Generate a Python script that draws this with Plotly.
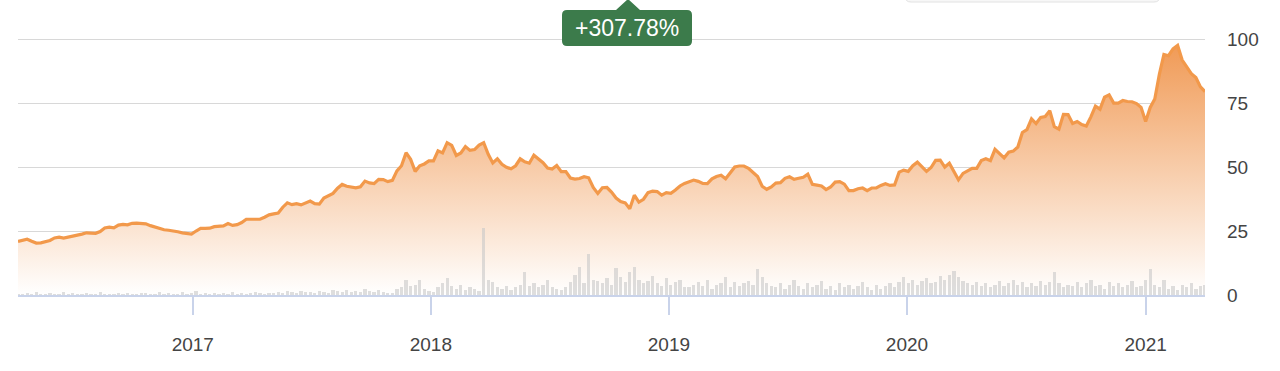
import plotly.graph_objects as go
import pandas as pd

# ---------------- data ----------------
start_date = "2016-04-08"
n_weeks = 261

price = [
    20.9, 21.4, 21.8, 21.0, 20.3, 20.4, 20.7, 21.3, 22.3, 22.6,
    22.2, 22.5, 22.9, 23.4, 23.8, 24.3, 24.2, 24.1, 24.8, 26.2,
    26.5, 26.2, 27.3, 27.6, 27.4, 28.0, 28.1, 28.0, 27.8, 27.1,
    26.5, 25.8, 25.5, 25.3, 25.1, 24.7, 24.3, 23.9, 23.8, 25.0,
    26.0, 26.0, 26.1, 26.7, 27.0, 27.0, 27.9, 27.2, 27.5, 28.3,
    29.6, 29.7, 29.6, 29.6, 30.4, 31.3, 31.7, 32.0, 34.3, 36.0,
    35.3, 35.7, 35.2, 35.8, 36.7, 35.7, 35.5, 37.9, 38.7, 39.7,
    41.7, 43.2, 42.5, 42.3, 41.9, 42.3, 44.5, 43.8, 43.5, 45.2,
    45.1, 44.3, 44.8, 48.5, 50.5, 55.6, 53.0, 48.3, 50.5, 51.2,
    52.4, 52.4, 56.3, 55.5, 59.5, 58.5, 54.5, 55.5, 58.0, 56.5,
    56.8, 58.6, 59.5, 55.0, 51.6, 53.2, 51.1, 49.9, 49.3, 50.5,
    53.2, 52.0, 51.5, 54.6, 53.3, 51.7, 49.6, 49.2, 50.6, 48.2,
    48.2, 45.7, 45.3, 45.5, 46.2, 45.8, 42.0, 39.7, 41.9, 42.0,
    40.2, 37.9, 36.5, 36.0, 33.7, 39.0, 36.3, 37.4, 40.0, 40.6,
    40.4, 39.0, 40.0, 39.7, 41.0, 42.6, 43.6, 44.3, 44.9, 44.4,
    43.6, 43.5, 45.4, 46.3, 46.8, 45.4, 47.5, 50.0, 50.4, 50.4,
    49.5, 48.0, 46.3, 42.5, 41.3, 42.2, 43.7, 43.9, 45.6, 46.2,
    45.2, 45.6, 46.0, 47.2, 43.2, 42.9, 42.6, 41.2, 42.2, 44.1,
    44.3, 43.3, 40.8, 40.8, 41.5, 41.8, 40.8, 41.8, 41.8, 42.8,
    43.5, 42.8, 43.0, 48.0, 48.8, 48.3, 50.5, 51.9, 50.1, 48.3,
    49.8, 52.6, 52.7, 50.0, 51.5, 48.2, 45.0, 47.5, 48.6, 49.5,
    49.5, 52.5, 53.2, 52.5, 56.9, 55.4, 53.6, 55.8, 56.2, 57.8,
    63.5, 64.6, 68.8, 67.0, 69.4, 69.7, 72.0, 65.8, 64.8, 70.6,
    70.5, 67.0, 67.8, 66.6, 66.0, 69.6, 73.8, 72.6, 77.3, 78.2,
    75.0, 75.0, 76.0, 75.6, 75.5, 74.8, 73.3, 67.8, 73.3, 76.6,
    86.2, 94.0, 93.5, 96.2, 97.5, 91.8, 89.0, 86.5, 85.0, 81.3,
    79.5,
]

volume = [
    1.0, 0.6, 1.4, 0.8, 2.2, 0.9, 0.7, 1.5, 1.1, 0.6,
    2.0, 0.8, 1.2, 0.5, 0.9, 1.6, 0.7, 1.0, 2.4, 0.8,
    1.1, 0.6, 1.9, 0.7, 1.3, 0.9, 0.5, 1.2, 1.8, 0.7,
    1.0, 2.6, 0.8, 1.4, 0.6, 1.1, 2.0, 0.9, 1.3, 2.8,
    0.9, 1.5, 0.7, 1.2, 1.0, 1.8, 0.8, 2.1, 1.1, 1.4,
    0.9, 1.6, 2.4, 1.2, 1.0, 1.9, 1.3, 2.6, 1.5, 3.0,
    2.2, 1.8, 3.4, 2.0, 2.6, 1.7, 3.2, 2.4, 1.9, 3.6,
    2.8, 2.1, 4.2, 2.5, 3.1, 2.2, 4.6, 3.0, 2.6, 3.8,
    2.4, 1.6, 1.2, 4.5, 6.0, 11.5, 7.0, 8.0, 12.0, 5.0,
    3.0, 2.5, 6.0, 9.0, 13.0, 7.0, 5.0, 8.0, 4.0, 6.0,
    5.0, 3.0, 52.0, 12.0, 10.0, 6.0, 5.0, 7.0, 4.0, 6.0,
    8.0, 18.0, 7.0, 9.0, 6.0, 8.0, 12.0, 6.0, 5.0, 4.0,
    6.0, 10.0, 16.0, 22.0, 9.0, 32.0, 12.0, 11.0, 9.0, 13.0,
    8.0, 21.0, 14.0, 10.0, 18.0, 22.0, 12.0, 9.0, 11.0, 15.0,
    9.0, 7.0, 13.0, 8.0, 10.0, 12.0, 6.0, 6.0, 8.0, 10.0,
    7.0, 12.0, 5.0, 8.0, 9.0, 14.0, 6.0, 10.0, 7.0, 9.0,
    11.0, 8.0, 20.0, 14.0, 9.0, 7.0, 6.0, 9.0, 5.0, 8.0,
    12.0, 7.0, 5.0, 9.0, 6.0, 8.0, 11.0, 5.0, 7.0, 4.0,
    9.0, 6.0, 8.0, 5.0, 7.0, 10.0, 6.0, 4.0, 8.0, 5.0,
    7.0, 9.0, 6.0, 10.0, 14.0, 9.0, 12.0, 8.0, 11.0, 13.0,
    9.0, 10.0, 15.0, 12.0, 16.0, 19.0, 14.0, 11.0, 9.0, 8.0,
    10.0, 7.0, 9.0, 6.0, 8.0, 11.0, 7.0, 9.0, 12.0, 8.0,
    10.0, 6.0, 9.0, 7.0, 11.0, 8.0, 10.0, 18.0, 9.0, 6.0,
    8.0, 7.0, 10.0, 6.0, 9.0, 12.0, 7.0, 8.0, 5.0, 10.0,
    7.0, 9.0, 6.0, 8.0, 11.0, 6.0, 7.0, 12.0, 20.0, 8.0,
    6.0, 12.0, 5.0, 7.0, 4.0, 8.0, 6.0, 9.0, 5.0, 7.0,
    8.0,
]

x_tick_vals = ["2017-01-01", "2018-01-01", "2019-01-01", "2020-01-01", "2021-01-01"]
x_tick_text = ["2017", "2018", "2019", "2020", "2021"]
y_tick_vals = [0, 25, 50, 75, 100]
badge_text = "+307.78%"

dates = pd.date_range(start_date, periods=n_weeks, freq="7D")

# ---------------- layout geometry ----------------
W, H = 1280, 371
PL, PT, PW, PH = 18, 37, 1187, 258   # y range 0..100.8 -> 100 sits at y=39
Y_MAX = 100.8
FONT = "Liberation Sans, Arial, sans-serif"


def px(x):
    return (x - PL) / PW


def py(y):
    return (PT + PH - y) / PH


fig = go.Figure()

fig.add_trace(go.Scatter(
    x=dates, y=price, mode="lines",
    line=dict(color="#f2994b", width=3.2),
    fill="tozeroy",
    fillgradient=dict(
        type="vertical",
        colorscale=[[0, "rgba(255,255,255,1)"], [1, "rgb(240,152,82)"]],
        start=0, stop=100,
    ),
    hoverinfo="skip", showlegend=False,
))

fig.add_trace(go.Bar(
    x=dates, y=volume, yaxis="y2",
    marker=dict(color="rgba(200,200,200,0.6)", line=dict(width=0)),
    width=5 * 86400000,
    hoverinfo="skip", showlegend=False,
))

# badge shape (rounded box with pointer)
r = 5
L, R, T, B = 562, 692, 10, 46
badge_path = (
    f"M {px(L + r)},{py(T)} L {px(616)},{py(T)} L {px(628)},{py(-1)} L {px(640)},{py(T)} "
    f"L {px(R - r)},{py(T)} Q {px(R)},{py(T)} {px(R)},{py(T + r)} "
    f"L {px(R)},{py(B - r)} Q {px(R)},{py(B)} {px(R - r)},{py(B)} "
    f"L {px(L + r)},{py(B)} Q {px(L)},{py(B)} {px(L)},{py(B - r)} "
    f"L {px(L)},{py(T + r)} Q {px(L)},{py(T)} {px(L + r)},{py(T)} Z"
)
# top-right control edge
tr_path = (
    f"M {px(905)},{py(-10)} L {px(905)},{py(-4)} Q {px(905)},{py(2)} {px(911)},{py(2)} "
    f"L {px(1154)},{py(2)} Q {px(1160)},{py(2)} {px(1160)},{py(-4)} L {px(1160)},{py(-10)} Z"
)

fig.update_layout(
    width=W, height=H,
    margin=dict(l=PL, r=W - PL - PW, t=PT, b=H - PT - PH, pad=0),
    paper_bgcolor="white", plot_bgcolor="white",
    bargap=0,
    xaxis=dict(
        type="date",
        range=[dates[0], dates[-1]],
        tickvals=x_tick_vals, ticktext=x_tick_text,
        ticks="outside", ticklen=18, tickwidth=2, tickcolor="#c9d3ea",
        showline=True, linecolor="#c9d3ea", linewidth=2,
        showgrid=False, zeroline=False,
        tickfont=dict(family=FONT, size=19, color="#444444"),
        ticklabelstandoff=13,
        fixedrange=True,
    ),
    yaxis=dict(
        range=[0, Y_MAX], side="right",
        tickvals=y_tick_vals,
        showgrid=True, gridcolor="#d8d8d8", gridwidth=1,
        zeroline=False, showline=False, ticks="",
        tickfont=dict(family=FONT, size=19, color="#444444"),
        ticklabelstandoff=21,
        fixedrange=True,
    ),
    yaxis2=dict(range=[0, 2 * Y_MAX], overlaying="y", visible=False, fixedrange=True),
    shapes=[
        dict(type="path", path=badge_path, xref="paper", yref="paper",
             fillcolor="#3c7b4b", line=dict(width=0), layer="above"),
        dict(type="path", path=tr_path, xref="paper", yref="paper",
             fillcolor="#f7f7f7", line=dict(color="#e2e2e2", width=1), layer="above"),
    ],
    annotations=[
        dict(text=badge_text, x=px(627), y=py(28), xref="paper", yref="paper",
             showarrow=False, xanchor="center", yanchor="middle",
             font=dict(family=FONT, size=23, color="white")),
    ],
)

fig.write_html(
    "out.html",
    config={"displayModeBar": False, "staticPlot": True},
    post_script="document.body.style.margin='0';document.body.style.overflow='hidden';",
)
